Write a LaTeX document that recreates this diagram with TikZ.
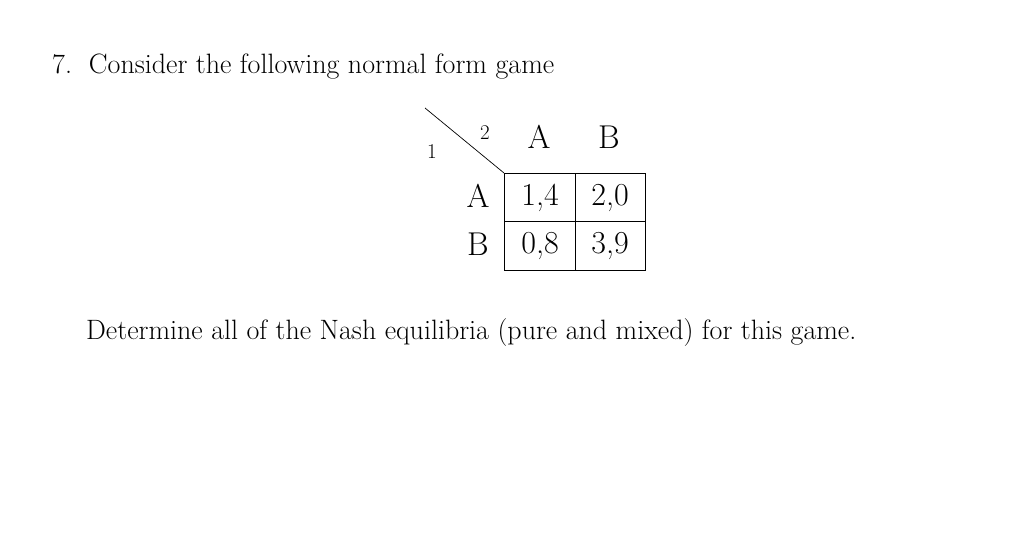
\documentclass[tikz,border=0pt]{standalone}
\begin{document}
\begin{tikzpicture}[x=1pt,y=-1pt,
  txt/.style={inner sep=0pt,font=\fontsize{28}{32}\selectfont},
  big/.style={inner sep=0pt,font=\fontsize{33}{38}\selectfont},
  cell/.style={inner sep=0pt,font=\fontsize{32}{36}\selectfont},
  sml/.style={inner sep=0pt,font=\fontsize{21}{24}\selectfont}]
\useasboundingbox (0,0) rectangle (1024,543);
\node[txt,anchor=base west] (q) at (52,74) {7.\ \ Consider the following normal form game};
\node[txt,anchor=base west] (d) at (86,339) {Determine all of the Nash equilibria (pure and mixed) for this game.};
\coordinate (tl) at (504,173);
\coordinate (br) at (645,270);
\coordinate (d0) at (425,108);
\draw[line width=0.7pt] (tl) rectangle (br);
\draw[line width=0.7pt] (575,173) -- (575,270);
\draw[line width=0.7pt] (504,221) -- (645,221);
\draw[line width=0.7pt] (d0) -- (tl);
\node[sml] (p2) at (485,133) {2};
\node[sml] (p1) at (432,152) {1};
\node[big] (cA) at (539,137) {A};
\node[big] (cB) at (609,137) {B};
\node[big] (rA) at (478,196) {A};
\node[big] (rB) at (478,244) {B};
\node[cell] (c11) at (540,198) {1,4};
\node[cell] (c12) at (610,198) {2,0};
\node[cell] (c21) at (540,246) {0,8};
\node[cell] (c22) at (610,246) {3,9};
\end{tikzpicture}
\end{document}
